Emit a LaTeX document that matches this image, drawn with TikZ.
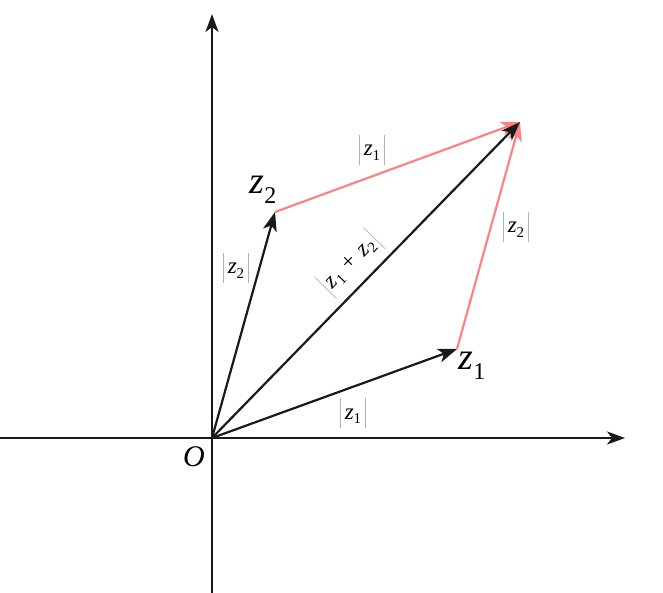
\documentclass[tikz,border=0pt]{standalone}
\usepackage{fontspec}
\setmainfont{Liberation Serif}
\usetikzlibrary{arrows.meta}
\definecolor{pinkline}{RGB}{255,130,130}
\definecolor{vecblack}{RGB}{25,25,25}
\newcommand{\gbar}{\textcolor{gray!60}{\rule[-9pt]{0.7pt}{30pt}}}
\newcommand{\smz}[1]{\textit{z}\raisebox{-4.5pt}{\fontsize{15}{15}\selectfont #1}}
\newcommand{\bigz}[1]{{\fontsize{38}{38}\selectfont\textit{z}\raisebox{-10pt}{\fontsize{24}{24}\selectfont #1}}}
\tikzset{
  vec/.style={draw=vecblack, line width=2.2pt, -{Stealth[length=19pt,width=14pt,inset=5pt]}},
  pinkvec/.style={draw=pinkline, line width=2.2pt, -{Stealth[length=19pt,width=14pt,inset=5pt]}},
  axis/.style={draw=vecblack, line width=2pt, -{Stealth[length=18pt,width=13pt,inset=5pt]}},
  lbl/.style={font=\fontsize{23}{23}\selectfont, inner sep=0pt},
  big/.style={inner sep=0pt},
}
\begin{document}
\begin{tikzpicture}[x=1pt,y=-1pt]
\useasboundingbox (0,0) rectangle (663,593);
\coordinate (O) at (212,438);
\coordinate (A) at (457,349);
\coordinate (B) at (275,212);
\coordinate (C) at (520,122);
\coordinate (xl) at (0,438);
\coordinate (xr) at (625,438);
\coordinate (yb) at (212,593);
\coordinate (yt) at (212,14);
% axes
\draw[axis] (xl) -- (xr);
\draw[axis] (yb) -- (yt);
% pink sides
\draw[pinkvec] (B) -- (C);
\draw[pinkvec] (A) -- (C);
% vectors
\draw[vec] (O) -- (A);
\draw[vec] (O) -- (B);
\draw[vec] (O) -- (C);
% labels
\node[big] (lO) at (194,457) {\fontsize{30}{30}\selectfont\textit{O}};
\node[big] (lz1) at (472,366) {\bigz{1}};
\node[big] (lz2) at (263,190) {\bigz{2}};
\node[lbl] (t1) at (372,150) {\gbar\,\smz{1}\,\gbar};
\node[lbl] (t2) at (516,227) {\gbar\,\smz{2}\,\gbar};
\node[lbl] (t3) at (236,268) {\gbar\,\smz{2}\,\gbar};
\node[lbl] (t4) at (353,413) {\gbar\,\smz{1}\,\gbar};
\node[lbl, rotate=45.7] (t5) at (350,263) {\gbar\,\smz{1}\,\,+\,\,\smz{2}\,\gbar};
\end{tikzpicture}
\end{document}
